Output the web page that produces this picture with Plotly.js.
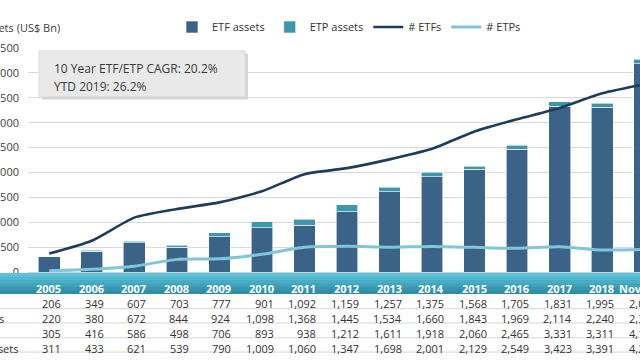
<!DOCTYPE html>
<html>
<head>
<meta charset="utf-8">
<script src="https://cdn.plot.ly/plotly-3.0.1.min.js"></script>
<style>
html,body{margin:0;padding:0;width:640px;height:360px;overflow:hidden;background:#fff;}
#wrap{position:absolute;left:-82px;top:0;width:808px;height:360px;}
</style>
</head>
<body>
<div id="wrap"></div>
<script>
// ---- data ----
const years = ['2005','2006','2007','2008','2009','2010','2011','2012','2013','2014','2015','2016','2017','2018','Nov-19'];
const etfAssets = [305,416,586,498,706,893,938,1212,1611,1918,2060,2465,3331,3311,4183];
const etpAssets = [6,17,35,41,84,116,122,135,87,83,69,84,92,80,96];
const totalAssets = [311,433,621,539,790,1009,1060,1347,1698,2001,2129,2549,3423,3391,4279];
const etfCount = [206,349,607,703,777,901,1092,1159,1257,1375,1568,1705,1831,1995,2096];
const etfEtpCount = [220,380,672,844,924,1098,1368,1445,1534,1660,1843,1969,2114,2240,2348];
const etpCount = [14,31,65,141,147,197,276,286,277,285,275,264,283,245,252];
const rowLabels = ['# ETFs','# ETFs/ETPs','ETF assets','ETF/ETP assets'];
const tableRows = [etfCount, etfEtpCount, etfAssets, totalAssets];
const yTicks = [0,500,1000,1500,2000,2500,3000,3500,4000,4500];
const boxLines = ['10 Year ETF/ETP CAGR: 20.2%','YTD 2019: 26.2%'];

const FONT = 'Open Sans, Noto Sans, sans-serif';
const PLOT_H = 235; // px height of plot area
const px = v => v / PLOT_H; // pixel -> paper (y)

const traces = [
  {type:'bar', name:'ETF assets', x:years, y:etfAssets, marker:{color:'#3B6387', line:{color:'#ffffff', width:0.6}}},
  {type:'bar', name:'ETP assets', x:years, y:etpAssets, marker:{color:'#3E96AA', line:{color:'#ffffff', width:0.6}}},
  {type:'scatter', mode:'lines', name:'# ETFs', x:years, y:etfCount, yaxis:'y2',
   line:{color:'#1E3D5C', width:2.6, shape:'spline', smoothing:0.6}},
  {type:'scatter', mode:'lines', name:'# ETPs', x:years, y:etpCount, yaxis:'y2',
   line:{color:'#80C5D8', width:3, shape:'spline', smoothing:0.6}}
];

const annotations = [];
const shapes = [];

// y axis title (horizontal, top-left)
annotations.push({xref:'paper', yref:'paper', x:-0.077, y:1+px(22), xanchor:'left', yanchor:'middle',
  text:'Assets (US$ Bn)', showarrow:false, font:{family:FONT, size:11, color:'#404040'}});

// header band (vertical gradient approximated by overlapping strips)
const bandCols = ['#5CC3D9','#52B8CF','#48ADC5','#3FA2BA','#3797AF','#318DA5'];
const bandTop = 1, bandBot = 23; // px below the axis
const stripH = (bandBot - bandTop) / bandCols.length;
bandCols.forEach((c, i) => {
  shapes.push({type:'rect', xref:'paper', yref:'paper', layer:'above',
    x0:-0.3, x1:1.2, y0:-px(bandBot), y1:-px(bandTop + stripH*i),
    fillcolor:c, line:{width:0}});
});

// header years (x given as category index on the category axis)
years.forEach((yr, i) => {
  annotations.push({xref:'x', yref:'paper', x:i, y:0, yshift:-16, xshift:14, xanchor:'right', yanchor:'middle',
    text:'<b>'+yr+'</b>', showarrow:false, font:{family:FONT, size:11, color:'#ffffff'}});
});

// table rows
const rowY = [31, 46, 61, 76];
const sepY = [38.5, 53.5, 69, 84];
tableRows.forEach((row, r) => {
  annotations.push({xref:'paper', yref:'paper', x:-0.136, y:0, yshift:-rowY[r], xanchor:'left', yanchor:'middle',
    text:rowLabels[r], showarrow:false, font:{family:FONT, size:11, color:'#333333'}});
  row.forEach((v, i) => {
    annotations.push({xref:'x', yref:'paper', x:i, y:0, yshift:-rowY[r], xshift:14, xanchor:'right', yanchor:'middle',
      text:v.toLocaleString('en-US'), showarrow:false, font:{family:FONT, size:11, color:'#333333'}});
  });
  shapes.push({type:'line', xref:'paper', yref:'paper', x0:-0.3, x1:1.2, y0:-px(sepY[r]), y1:-px(sepY[r]),
    line:{color:'#d6d6d6', width:1}});
});

// text box with shadow
shapes.push({type:'rect', xref:'paper', yref:'paper', layer:'above',
  x0:0.0172+3/638, x1:0.3401+3/638, y0:px(184-3), y1:px(232-3), fillcolor:'#d4d4d4', line:{width:0}});
shapes.push({type:'rect', xref:'paper', yref:'paper', layer:'above',
  x0:0.0172, x1:0.3401, y0:px(184), y1:px(232), fillcolor:'#e9e9e9', line:{color:'#dddddd', width:1}});
boxLines.forEach((t, i) => {
  annotations.push({xref:'paper', yref:'paper', x:(52-28)/638, y:px(i===0 ? 214 : 195), xanchor:'left', yanchor:'middle',
    text:t, showarrow:false, font:{family:FONT, size:12, color:'#3a3a3a'}});
});

const layout = {
  width:808, height:360,
  margin:{l:110, r:60, t:37, b:88},
  paper_bgcolor:'#ffffff', plot_bgcolor:'#ffffff',
  barmode:'stack', bargap:0.49,
  font:{family:FONT, size:11, color:'#404040'},
  showlegend:true,
  legend:{orientation:'h', x:(172-28)/638, xanchor:'left', y:1+px(22), yanchor:'middle',
    font:{family:FONT, size:11, color:'#333333'}, bgcolor:'rgba(0,0,0,0)', traceorder:'normal'},
  xaxis:{type:'category', range:[-0.5, 14.5], showticklabels:false, showgrid:false, zeroline:false,
    showline:false, ticks:'', fixedrange:true},
  yaxis:{range:[0,4500], tickvals:yTicks, tickformat:',d', showgrid:true, gridcolor:'#d9d9d9', gridwidth:1,
    zeroline:true, zerolinecolor:'#d0d0d0', showline:false, ticks:'', ticklabelstandoff:8,
    tickfont:{family:FONT, size:11, color:'#404040'}},
  yaxis2:{range:[0,2500], overlaying:'y', side:'right', showgrid:false, showticklabels:false,
    zeroline:false, showline:false, ticks:''},
  shapes:shapes,
  annotations:annotations
};

Plotly.newPlot('wrap', traces, layout, {displayModeBar:false, staticPlot:true});
</script>
</body>
</html>
